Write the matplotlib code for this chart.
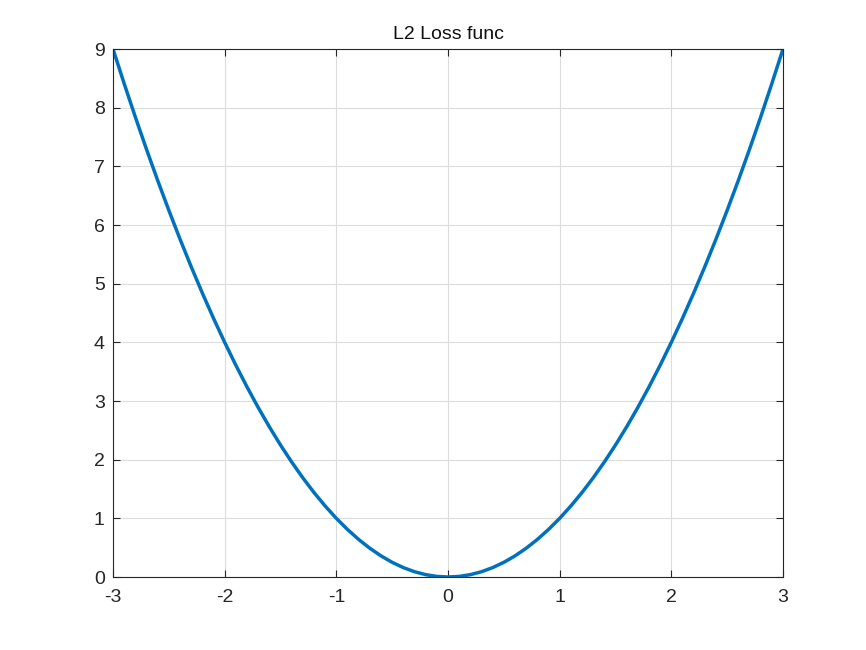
import matplotlib
matplotlib.use('Agg')
import matplotlib.pyplot as plt

# error values and the loss
err = [-3.0, -2.9, -2.8, -2.7, -2.6, -2.5, -2.4, -2.3, -2.2, -2.1, -2.0,
       -1.9, -1.8, -1.7, -1.6, -1.5, -1.4, -1.3, -1.2, -1.1, -1.0,
       -0.9, -0.8, -0.7, -0.6, -0.5, -0.4, -0.3, -0.2, -0.1, 0.0,
       0.1, 0.2, 0.3, 0.4, 0.5, 0.6, 0.7, 0.8, 0.9, 1.0,
       1.1, 1.2, 1.3, 1.4, 1.5, 1.6, 1.7, 1.8, 1.9, 2.0,
       2.1, 2.2, 2.3, 2.4, 2.5, 2.6, 2.7, 2.8, 2.9, 3.0]
loss = [9.0, 8.41, 7.84, 7.29, 6.76, 6.25, 5.76, 5.29, 4.84, 4.41, 4.0,
        3.61, 3.24, 2.89, 2.56, 2.25, 1.96, 1.69, 1.44, 1.21, 1.0,
        0.81, 0.64, 0.49, 0.36, 0.25, 0.16, 0.09, 0.04, 0.01, 0.0,
        0.01, 0.04, 0.09, 0.16, 0.25, 0.36, 0.49, 0.64, 0.81, 1.0,
        1.21, 1.44, 1.69, 1.96, 2.25, 2.56, 2.89, 3.24, 3.61, 4.0,
        4.41, 4.84, 5.29, 5.76, 6.25, 6.76, 7.29, 7.84, 8.41, 9.0]
xticks = [-3, -2, -1, 0, 1, 2, 3]
yticks = [0, 1, 2, 3, 4, 5, 6, 7, 8, 9]

plt.rcParams['font.family'] = ['Liberation Sans', 'DejaVu Sans']

fig = plt.figure(figsize=(8.66, 6.5), dpi=100)
ax = fig.add_axes([113 / 866, 1 - 577 / 650, (783 - 113) / 866, (577 - 49) / 650])

ax.plot(err, loss, color='#0072BD', linewidth=2.5, solid_capstyle='round',
        solid_joinstyle='round')

ax.set_xlim(-3, 3)
ax.set_ylim(0, 9)
ax.set_xticks(xticks)
ax.set_yticks(yticks)
ax.set_xticklabels([str(t) for t in xticks])
ax.set_yticklabels([str(t) for t in yticks])
ax.grid(True, color='#dcdcdc', linewidth=0.8)
ax.set_axisbelow(True)
ax.tick_params(direction='in', top=True, right=True, length=5,
               labelsize=14, colors='#262626', width=0.8)
ax.tick_params(axis='x', pad=9)
ax.tick_params(axis='y', pad=6)
for s in ax.spines.values():
    s.set_color('#262626')
    s.set_linewidth(0.8)
ax.set_title('L2 Loss func', fontsize=14, color='#111111', pad=7)

fig.savefig('out.png', dpi=100)
